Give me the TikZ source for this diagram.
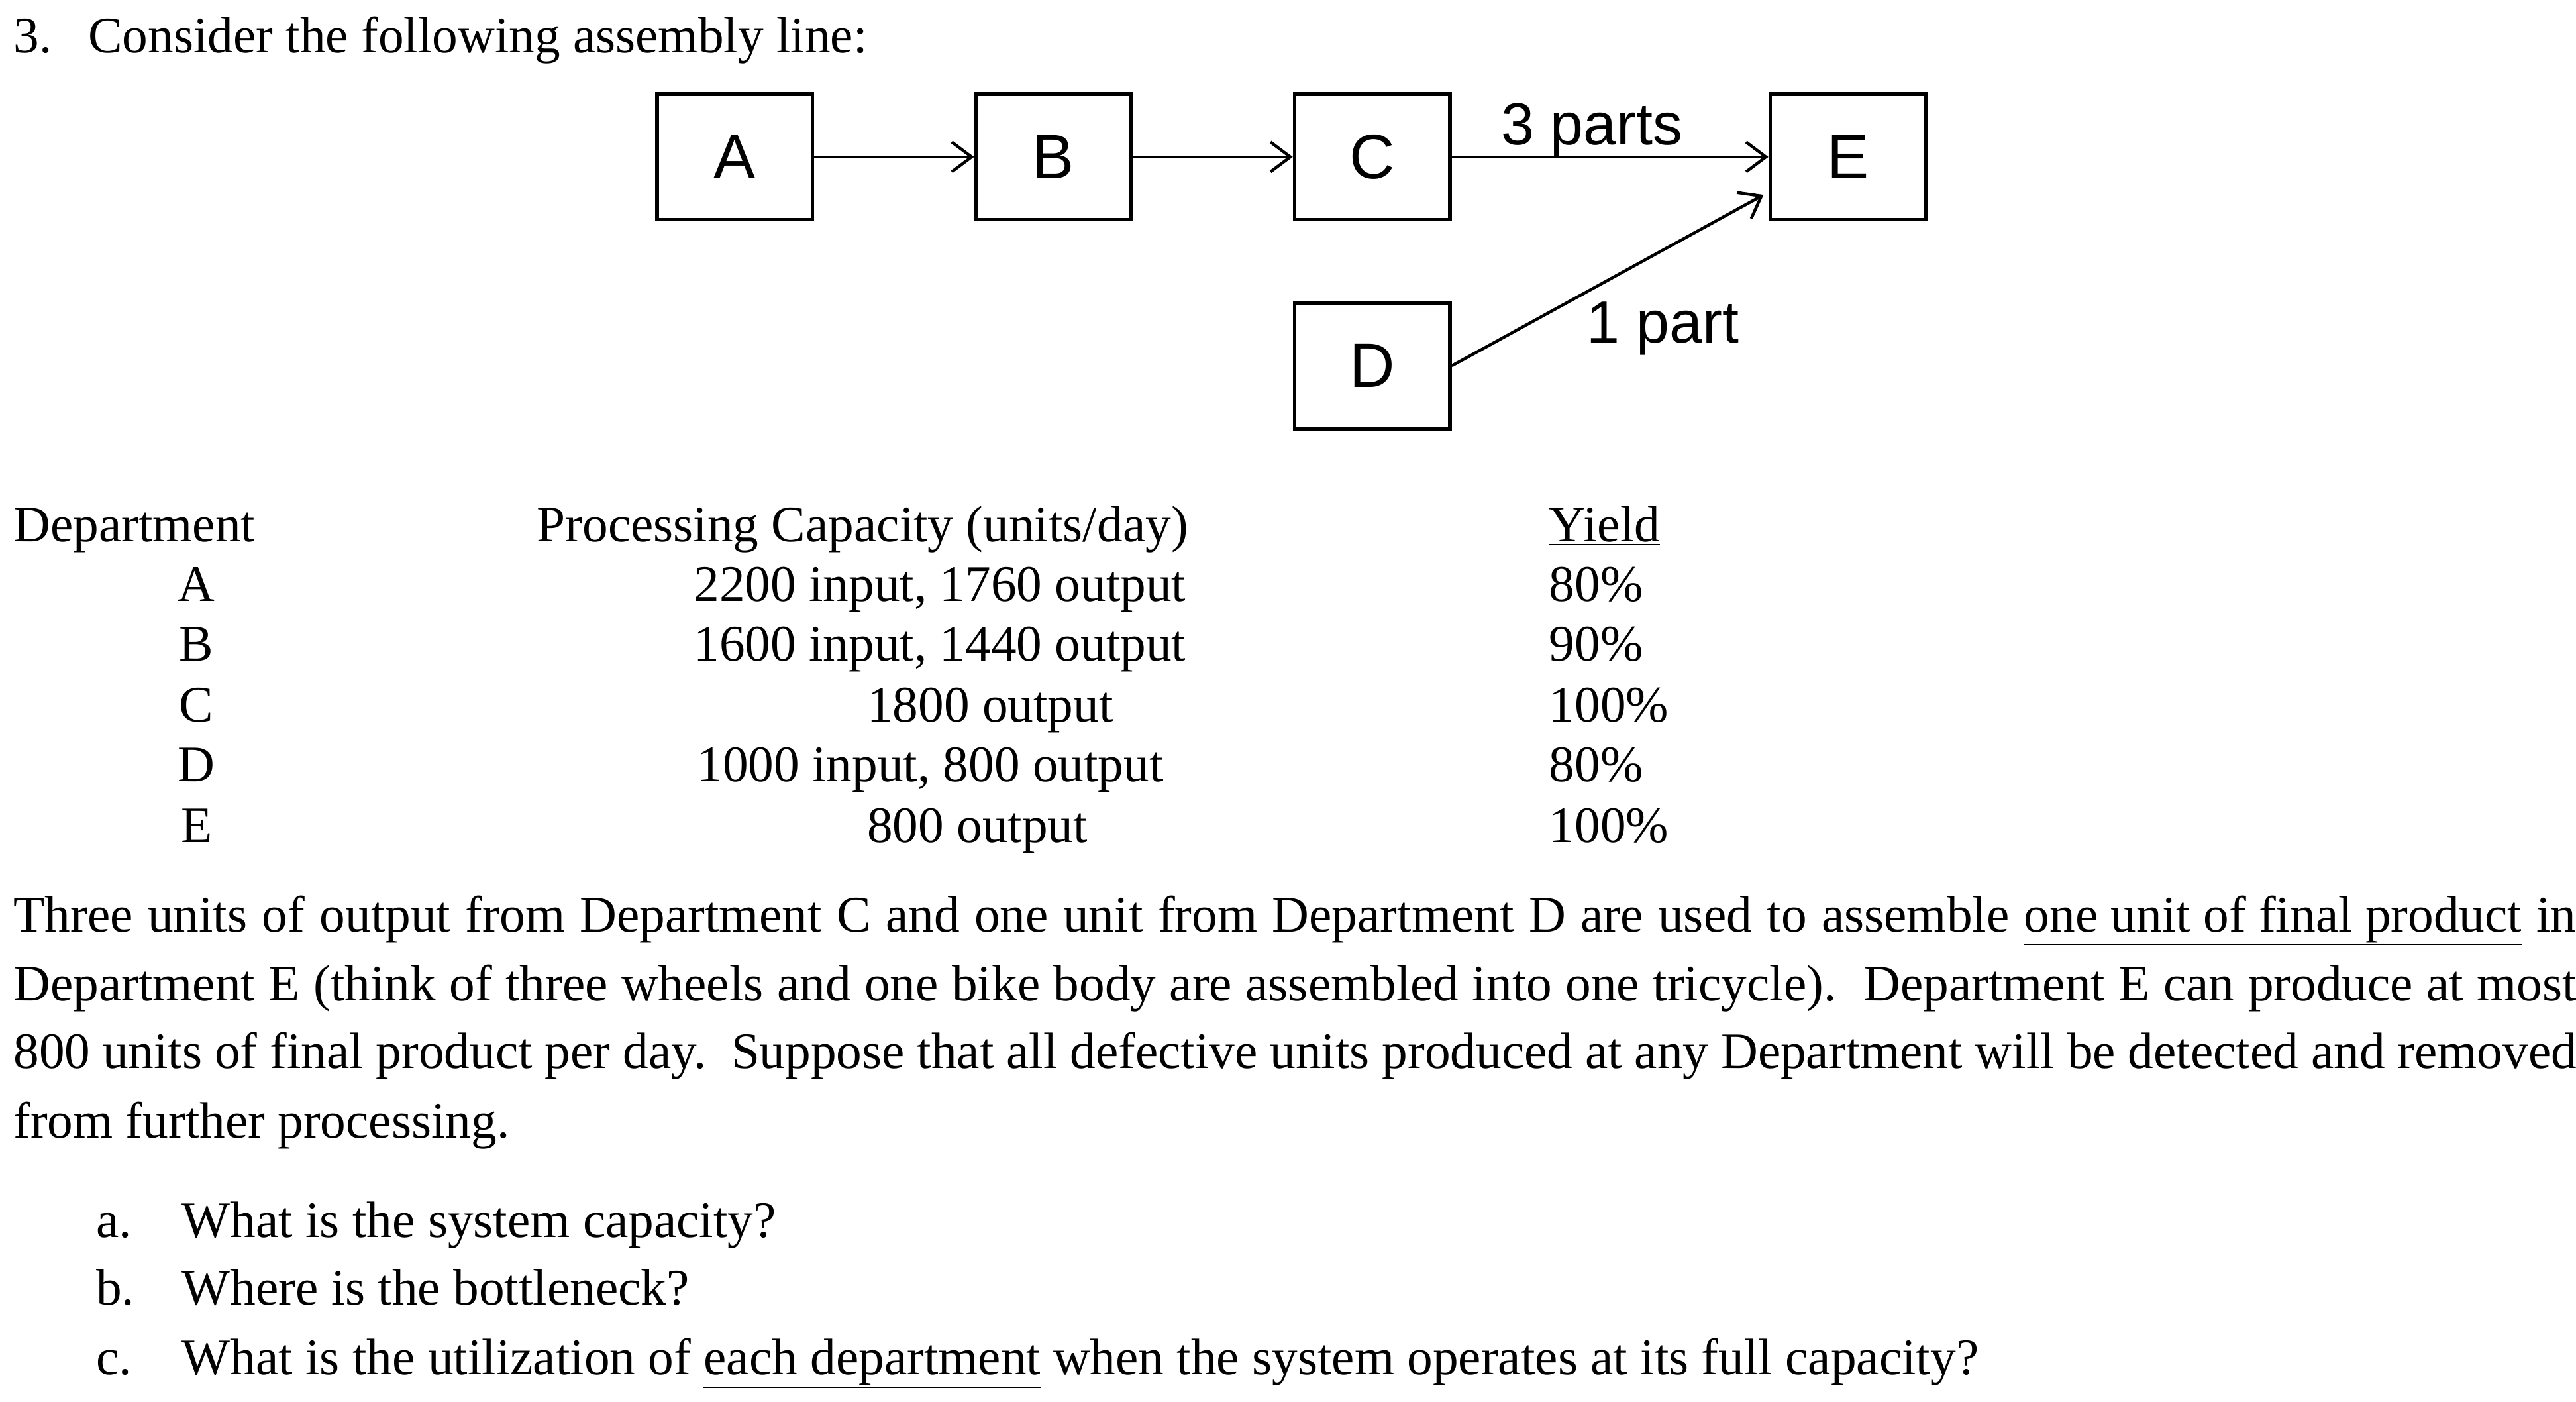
\documentclass[tikz,border=0pt]{standalone}
\usepackage{fontspec}
\setmainfont{Liberation Serif}
\newfontfamily\boxfont{Liberation Sans}
\usetikzlibrary{arrows.meta}
\begin{document}
\begin{tikzpicture}[x=1pt,y=-1pt,
  txt/.style={anchor=base west,inner sep=0pt,font=\fontsize{31}{36}\selectfont},
  dept/.style={draw,line width=2.2pt,minimum width=94pt,minimum height=76pt,inner sep=0pt,font=\boxfont\fontsize{38}{44}\selectfont},
  lbl/.style={inner sep=0pt,font=\boxfont\fontsize{36}{42}\selectfont},
  conn/.style={line width=1.8pt,-{Straight Barb[length=12pt,width=18pt,line width=1.8pt]}}]
\useasboundingbox (0,0) rectangle (1560,848.4);
\node[txt] (t0) at (8,32) {3.\hspace{22pt}Consider the following assembly line:};
\node[dept] (A) at (445,95) {A};
\node[dept] (B) at (638,95) {B};
\node[dept] (C) at (831,95) {C};
\node[dept] (E) at (1119,95) {E};
\node[dept] (D) at (831,221.5) {D};
\draw[conn] (A) -- (B);
\draw[conn] (B) -- (C);
\draw[conn] (C) -- (E);
\coordinate (Ein) at (1068,118);
\draw[conn] (D.east) -- (Ein);
\node[lbl] (p3) at (964,79) {3 parts};
\node[lbl] (p1) at (1007,199) {1 part};
% table
\node[txt] (h1) at (8,328) {\underline{Department}};
\node[txt] (h2) at (325,328) {\underline{Processing Capacity }(units/day)};
\node[txt] (h3) at (938,328) {\underline{Yield}};
\foreach \n/\yp/\c/\xp/\yy in {A/364/{2200 input, 1760 output}/420/80\%,
  B/400/{1600 input, 1440 output}/420/90\%,
  C/437/1800 output/525/100\%,
  D/473/{1000 input, 800 output}/422/80\%,
  E/510/800 output/525/100\%}{
  \node[txt,anchor=base] (r\n) at (119,\yp) {\n};
  \node[txt] (c\n) at (\xp,\yp) {\c};
  \node[txt] (y\n) at (938,\yp) {\yy};
}
% paragraph
\node[txt] (p1l) at (8,564) {\makebox[1552pt][s]{Three units of output from Department C and one unit from Department D are used to assemble \underline{one unit of final product} in}};
\node[txt] (p2l) at (8,606) {\makebox[1552pt][s]{Department E (think of three wheels and one bike body are assembled into one tricycle).\ \ Department E can produce at most}};
\node[txt] (p3l) at (8,647) {\makebox[1552pt][s]{800 units of final product per day.\ \ Suppose that all defective units produced at any Department will be detected and removed}};
\node[txt] (p4l) at (8,689) {from further processing.};
\node[txt] (qa) at (58,749) {a.};
\node[txt] (qat) at (110,749) {What is the system capacity?};
\node[txt] (qb) at (58,790) {b.};
\node[txt] (qbt) at (110,790) {Where is the bottleneck?};
\node[txt] (qc) at (58,832) {c.};
\node[txt] (qct) at (110,832) {What is the utilization of \underline{each department} when the system operates at its full capacity?};
\end{tikzpicture}
\end{document}
